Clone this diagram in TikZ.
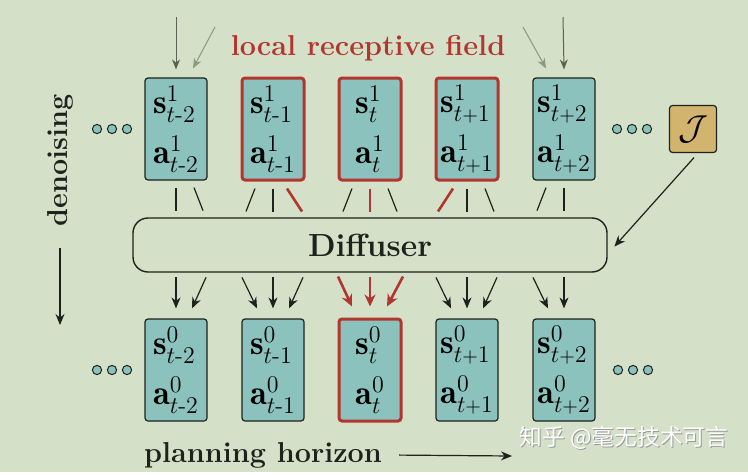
\documentclass[tikz,border=0pt]{standalone}
\usepackage{amsmath}
\usepackage{fontspec}
\newfontfamily\cjkfont{Noto Sans CJK SC}
\usetikzlibrary{positioning,calc,arrows.meta}
\definecolor{DBack}{HTML}{D4E0C7}
\definecolor{DCell}{HTML}{8CC2BE}
\definecolor{DInk}{HTML}{1C231C}
\definecolor{DField}{HTML}{B2362F}
\definecolor{DCost}{HTML}{D3B46F}
\definecolor{DFeed}{HTML}{5A6353}
\definecolor{DFeedLight}{HTML}{8D9786}
\newcommand{\dminus}{\text{-}}
\newcommand{\dplus}{\mathord{\scriptscriptstyle+}}

\begin{document}
\begin{tikzpicture}[x=0.5pt, y=-0.5pt,
  cell/.style={draw=DInk, line width=0.6pt, fill=DCell, rounded corners=1.5pt,
    minimum width=31pt, minimum height=51pt, inner sep=0pt, align=left, font=\LARGE},
  fieldcell/.style={cell, draw=DField, line width=1.5pt},
  dot/.style={circle, draw=DInk, line width=0.5pt, fill=DCell, minimum size=4.6pt, inner sep=0pt},
  cost/.style={draw=DInk, line width=0.6pt, fill=DCost, rounded corners=1.5pt,
    minimum size=23.5pt, inner sep=0pt, font=\LARGE},
  diffbox/.style={draw=DInk, line width=0.7pt, rounded corners=7.5pt,
    minimum width=237pt, minimum height=27pt, font=\fontsize{16}{19}\selectfont\bfseries, text=DInk},
  link/.style={DInk, line width=0.6pt},
  fieldlink/.style={DField, line width=1.3pt},
  arr/.style={DInk, line width=0.6pt, -{Stealth[length=5.5pt,width=4.5pt]}},
  fieldarr/.style={DField, line width=1.3pt, -{Stealth[length=6pt,width=5.5pt]}},
  feed/.style={DFeed, line width=0.5pt, -{Stealth[length=5pt,width=4pt]}},
  feedlight/.style={feed, DFeedLight},
  label/.style={font=\Large\bfseries, text=DInk}]

\fill[DBack] (0,0) rectangle (748,472);

% noisy plan (step 1)
\foreach \i/\sub/\kind in {1/t\dminus2/cell, 2/t\dminus1/fieldcell, 3/t/fieldcell, 4/t\dplus1/fieldcell, 5/t\dplus2/cell}{
  \node[\kind] (up\i) at ({79+97*\i},129) {$\mathbf{s}^1_{\sub}$\\[3pt]$\mathbf{a}^1_{\sub}$};
}
% denoised plan (step 0)
\foreach \i/\sub/\kind in {1/t\dminus2/cell, 2/t\dminus1/cell, 3/t/fieldcell, 4/t\dplus1/cell, 5/t\dplus2/cell}{
  \node[\kind] (dn\i) at ({79+97*\i},370) {$\mathbf{s}^0_{\sub}$\\[3pt]$\mathbf{a}^0_{\sub}$};
}
\foreach \j in {0,1,2}{
  \node[dot] (ldotu\j) at ({97+15*\j},129) {};
  \node[dot] (rdotu\j) at ({617+15*\j},129) {};
  \node[dot] (ldotd\j) at ({97+15*\j},370) {};
  \node[dot] (rdotd\j) at ({618+15*\j},370) {};
}

\node[cost] (J) at (693,129) {$\mathcal{J}$};
\node[diffbox] (diff) at (370,245) {Diffuser};
\node[font=\Large\bfseries, text=DField] (field) at (368,48) {local receptive field};

% incoming noise
\coordinate (feedA) at (176,17);
\coordinate (feedB) at (215,27);
\coordinate (feedC) at (523,27);
\coordinate (feedD) at (563,17);
\draw[feed] (feedA) -- ($(up1.north)+(0,-8)$);
\draw[feedlight] (feedB) -- ($(up1.north)+(17,-9)$);
\draw[feedlight] (feedC) -- ($(up5.north)+(-18,-9)$);
\draw[feed] (feedD) -- ($(up5.north)+(0,-8)$);

% into the diffuser
\foreach \i in {1,2,4,5} \draw[link] ($(up\i.south)+(0,7)$) -- ($(up\i.south)+(0,30)$);
\foreach \i in {2,3,5} \draw[link] ($(up\i.south)+(-18,7)$) -- ($(up\i.south)+(-27,30)$);
\foreach \i in {1,3,4} \draw[link] ($(up\i.south)+(18,7)$) -- ($(up\i.south)+(27,30)$);
\draw[fieldlink] ($(up2.south)+(14,7)$) -- ($(up2.south)+(29,30)$);
\draw[fieldlink] ($(up3.south)+(0,7)$) -- ($(up3.south)+(0,30)$);
\draw[fieldlink] ($(up4.south)+(-14,7)$) -- ($(up4.south)+(-29,30)$);

% out of the diffuser
\foreach \i in {1,2,4,5} \draw[arr] ($(dn\i.north)+(0,-41)$) -- ($(dn\i.north)+(0,-10)$);
\foreach \i in {2,4,5} \draw[arr] ($(dn\i.north)+(-31,-41)$) -- ($(dn\i.north)+(-16,-10)$);
\foreach \i in {1,2,4} \draw[arr] ($(dn\i.north)+(30,-41)$) -- ($(dn\i.north)+(16,-10)$);
\draw[fieldarr] ($(dn3.north)+(-32,-41)$) -- ($(dn3.north)+(-18,-11)$);
\draw[fieldarr] ($(dn3.north)+(0,-41)$) -- ($(dn3.north)+(0,-11)$);
\draw[fieldarr] ($(dn3.north)+(33,-41)$) -- ($(dn3.north)+(17,-11)$);

\draw[arr, shorten <=3pt, shorten >=5pt] ($(J.south)+(5,0)$) -- ($(diff.east)+(0,9)$);

% axes
\node[label, rotate=90] (noise) at (60,160) {denoising};
\coordinate (noiseend) at (60,325);
\draw[arr, shorten <=7.5pt] (noise.west) -- (noiseend);
\node[label] (horizon) at (263,455) {planning horizon};
\coordinate (horend) at (512,456);
\draw[arr, shorten <=5pt] (horizon.east) -- (horend);

\node[font=\cjkfont\fontsize{11.4}{14}\selectfont, text=DInk!45] (markshade) at (625,439) {知乎 @毫无技术可言};
\node[font=\cjkfont\fontsize{11.4}{14}\selectfont, text=white] (mark) at (624,438) {知乎 @毫无技术可言};
\end{tikzpicture}
\end{document}
